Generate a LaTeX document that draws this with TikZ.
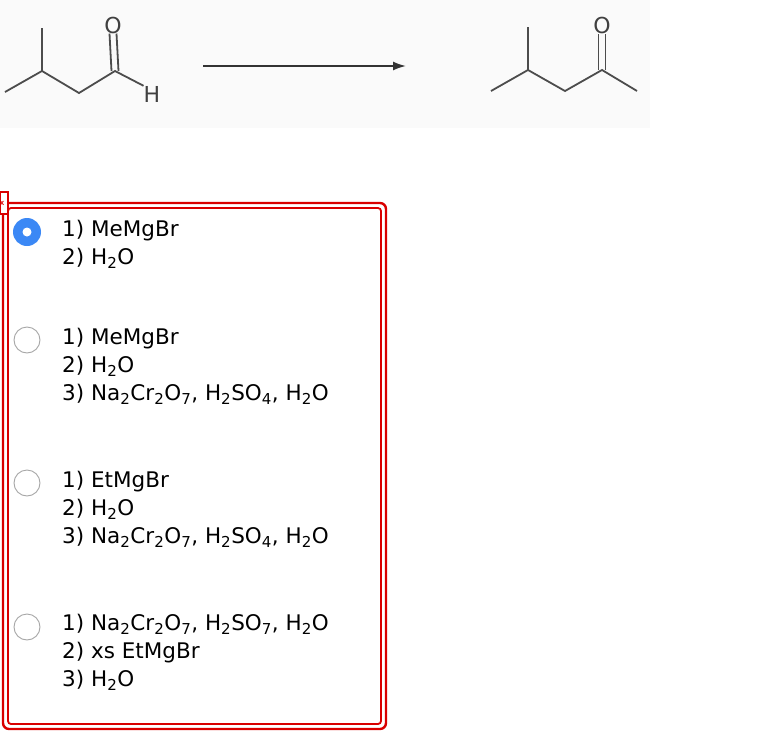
\documentclass[tikz,border=0pt]{standalone}
\usepackage{fontspec}
\setmainfont{DejaVu Sans}
\usetikzlibrary{arrows.meta}
\definecolor{radioblue}{HTML}{3B88F5}
\begin{document}
\begin{tikzpicture}[x=1pt,y=-1pt,
  bond/.style={line width=1.8pt,black!70},
  atom/.style={font=\fontsize{22}{22}\selectfont,text=black!75,inner sep=0pt},
  ans/.style={anchor=north west,align=left,inner sep=0pt,font=\fontsize{21.5}{28}\selectfont},
  radio/.style={circle,draw=black!35,line width=0.9pt,minimum size=26pt,inner sep=0pt},
  redbox/.style={draw=red!85!black,line width=2.4pt,rounded corners=6pt}]
\useasboundingbox (0,0) rectangle (766,744);
\fill[black!2] (0,0) rectangle (650,128);
% reactant
\coordinate (a1) at (5,92); \coordinate (a2) at (42,71); \coordinate (a3) at (42,28);
\coordinate (a4) at (79,93); \coordinate (a5) at (115,71);
\node[atom] (o1) at (113,25) {O};
\node[atom] (h1) at (152,94) {H};
\draw[bond] (a1)--(a2)--(a4)--(a5)--(h1.north west);
\draw[bond] (a2)--(a3);
\draw[bond] ([xshift=-3.5pt]a5)--([xshift=-3.5pt]o1.south);
\draw[bond] ([xshift=3.5pt]a5)--([xshift=3.5pt]o1.south);
% arrow
\coordinate (r0) at (203,66); \coordinate (r1) at (406,66);
\draw[line width=1.8pt,black!80,-{Latex[length=13pt,width=9pt]}] (r0)--(r1);
% product
\coordinate (b1) at (491,91); \coordinate (b2) at (528,70); \coordinate (b3) at (528,27);
\coordinate (b4) at (565,91); \coordinate (b5) at (602,70); \coordinate (b6) at (637,91);
\node[atom] (o2) at (602,25) {O};
\draw[bond] (b1)--(b2)--(b4)--(b5)--(b6);
\draw[bond] (b2)--(b3);
\draw[bond] ([xshift=-3.5pt]b5)--([xshift=-3.5pt]o2.south);
\draw[bond] ([xshift=3.5pt]b5)--([xshift=3.5pt]o2.south);
% box
\draw[redbox] (3,203) rectangle (386,729);
\draw[red!85!black,line width=1.8pt,rounded corners=3pt] (8,208) rectangle (381,724);
\draw[red!85!black,line width=1.5pt,fill=white] (0,192) rectangle (8,214);
\node[text=red!85!black,font=\bfseries\fontsize{9}{9}\selectfont,inner sep=0pt] (x) at (2,203) {\textsf{x}};
% radios
\node[circle,fill=radioblue,minimum size=28pt,inner sep=0pt] (r1b) at (27,232) {};
\node[circle,fill=white,minimum size=9pt,inner sep=0pt] at (r1b) {};
\node[radio] (r2) at (27,340) {};
\node[radio] (r3) at (27,483) {};
\node[radio] (r4) at (27,627) {};
% answers
\node[ans] (t1) at (62,220) {1) MeMgBr\\2) H\textsubscript{2}O};
\node[ans] (t2) at (62,328) {1) MeMgBr\\2) H\textsubscript{2}O\\3) Na\textsubscript{2}Cr\textsubscript{2}O\textsubscript{7}, H\textsubscript{2}SO\textsubscript{4}, H\textsubscript{2}O};
\node[ans] (t3) at (62,471) {1) EtMgBr\\2) H\textsubscript{2}O\\3) Na\textsubscript{2}Cr\textsubscript{2}O\textsubscript{7}, H\textsubscript{2}SO\textsubscript{4}, H\textsubscript{2}O};
\node[ans] (t4) at (62,614) {1) Na\textsubscript{2}Cr\textsubscript{2}O\textsubscript{7}, H\textsubscript{2}SO\textsubscript{7}, H\textsubscript{2}O\\2) xs EtMgBr\\3) H\textsubscript{2}O};
\end{tikzpicture}
\end{document}
